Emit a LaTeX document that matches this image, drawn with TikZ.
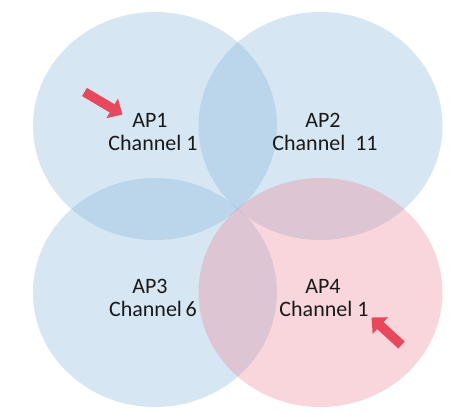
\documentclass[tikz,border=0pt]{standalone}
\usepackage{fontspec}
\setmainfont{Carlito}
\usetikzlibrary{arrows.meta}
\definecolor{cellblue}{RGB}{138,184,221}
\definecolor{cellpink}{RGB}{236,130,149}
\definecolor{arrowred}{RGB}{232,72,92}
\tikzset{
  cellb/.style={fill=cellblue,fill opacity=0.35,draw=none},
  cellp/.style={fill=cellpink,fill opacity=0.32,draw=none},
  lbl/.style={anchor=base,inner sep=0pt,font=\fontsize{22}{23}\selectfont,text=black!90},
  redarrow/.style={draw=arrowred,line width=9.5pt,-{Triangle[width=22pt,length=12pt]}}
}
\begin{document}
\begin{tikzpicture}[x=1pt,y=-1pt]
\useasboundingbox (0,0) rectangle (474,413);
\fill[white] (0,0) rectangle (474,413);
\path[cellb] (155,126) ellipse [x radius=122pt, y radius=114pt];
\path[cellb] (320.5,126) ellipse [x radius=122pt, y radius=114pt];
\path[cellb] (155,292.5) ellipse [x radius=122pt, y radius=114.5pt];
\path[cellp] (320.5,292.5) ellipse [x radius=122pt, y radius=114.5pt];

\node[lbl] (ap1) at (150,127) {AP1};
\node[lbl] (ch1) at (153,150) {Channel 1};
\node[lbl] (ap2) at (323,127) {AP2};
\node[lbl] (ch2) at (325,150) {Channel\ \ 11};
\node[lbl] (ap3) at (150,293) {AP3};
\node[lbl] (ch3) at (153,316) {Channel\,6};
\node[lbl] (ap4) at (323,293) {AP4};
\node[lbl] (ch4) at (324,316) {Channel 1};

\coordinate (t1) at (84.5,92);
\coordinate (h1) at (122.5,114.5);
\coordinate (t2) at (401.5,345);
\coordinate (h2) at (371.5,317.5);
\draw[redarrow] (t1) -- (h1);
\draw[redarrow] (t2) -- (h2);
\end{tikzpicture}
\end{document}
